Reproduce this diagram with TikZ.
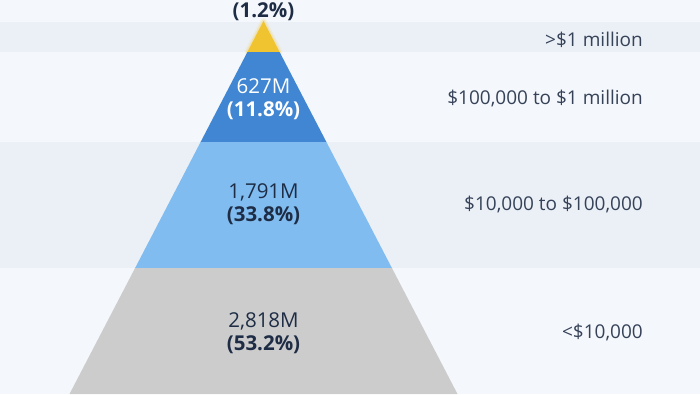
\documentclass[tikz,border=0pt]{standalone}
\usepackage{fontspec}
\setmainfont{Open Sans}
\definecolor{bgpale}{RGB}{244,247,251}
\definecolor{bgband}{RGB}{235,240,247}
\definecolor{goldtop}{RGB}{240,196,48}
\definecolor{deepblue}{RGB}{64,134,211}
\definecolor{skyblue}{RGB}{128,188,240}
\definecolor{basegray}{RGB}{204,204,204}
\definecolor{inknavy}{RGB}{30,45,69}
\usetikzlibrary{positioning}

\begin{document}
\begin{tikzpicture}[x=1pt, y=-1pt,
  tier/.style={align=center, font=\fontsize{20.5}{23}\selectfont, text=inknavy, inner sep=0pt},
  bandlabel/.style={anchor=east, font=\fontsize{19}{22}\selectfont, text=inknavy!90, inner sep=0pt}
]
  % bands behind the pyramid
  \fill[bgpale] (0, 0) rectangle (700, 394);
  \fill[bgband] (0, 22) rectangle (700, 52);
  \fill[bgband] (0, 142) rectangle (700, 268);
  \useasboundingbox (0, 0) rectangle (700, 394);

  % pyramid tiers
  \draw[goldtop!70, line width=6pt, opacity=0.18, line join=round] (263.5, 21) -- (279.6, 52) -- (247.4, 52) -- cycle;
  \draw[goldtop!80, line width=3pt, opacity=0.3, line join=round] (263.5, 21) -- (279.6, 52) -- (247.4, 52) -- cycle;
  \fill[goldtop] (263.5, 21) -- (279.6, 52) -- (247.4, 52) -- cycle;
  \fill[deepblue] (247.4, 52) -- (279.6, 52) -- (326.4, 142) -- (200.6, 142) -- cycle;
  \fill[skyblue] (200.6, 142) -- (326.4, 142) -- (391.9, 268) -- (135.1, 268) -- cycle;
  \fill[basegray] (135.1, 268) -- (391.9, 268) -- (457.5, 394) -- (69.5, 394) -- cycle;

  \node[tier, font=\fontsize{20.5}{23}\selectfont\bfseries] (topshare) at (263.5, 12) {(1.2\%)};
  \node[tier, text=white] (midcount) at (263.5, 99.5) {627M\\\textbf{(11.8\%)}};
  \node[tier] (uppercount) at (263.5, 204.5) {1,791M\\\textbf{(33.8\%)}};
  \node[tier] (basecount) at (263.5, 333.5) {2,818M\\\textbf{(53.2\%)}};

  \node[bandlabel] (toprange) at (643, 39.5) {>\$1 million};
  \node[bandlabel] (midrange) at (643, 98.5) {\$100,000 to \$1 million};
  \node[bandlabel] (upperrange) at (643, 204.5) {\$10,000 to \$100,000};
  \node[bandlabel] (baserange) at (643, 332.5) {<\$10,000};
\end{tikzpicture}
\end{document}
